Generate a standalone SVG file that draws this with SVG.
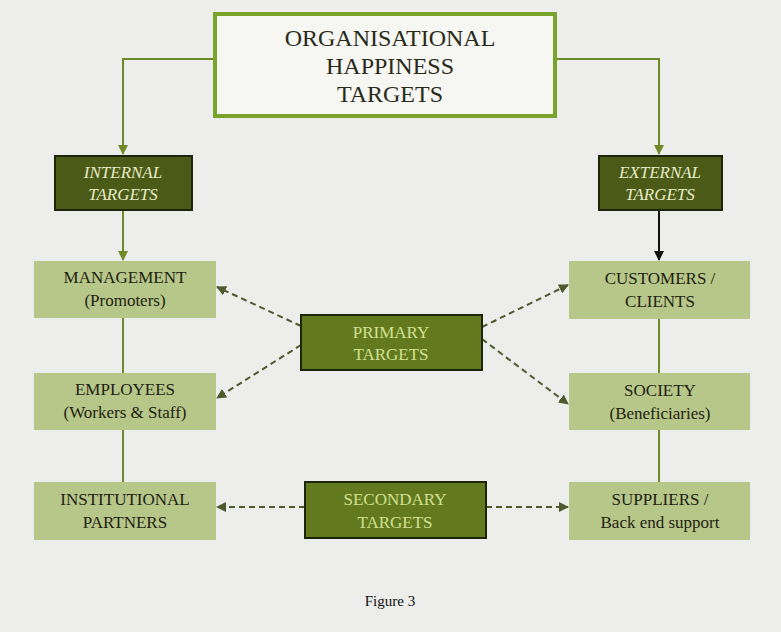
<svg xmlns="http://www.w3.org/2000/svg" width="781" height="632" viewBox="0 0 781 632">
<style>
text{font-family:"Liberation Serif","DejaVu Serif",serif;text-anchor:middle}
.lt{fill:#b7c689}
.t{fill:#1e1e12;font-size:17px}
.dk{fill:#4b5a16;stroke:#1e2408;stroke-width:2}
.pm{fill:#627a1d;stroke:#1e2408;stroke-width:2}
.w{fill:#e6ebc8;font-size:17px}
.g{fill:#d3e094;font-size:17px}
.c{fill:none;stroke:#6f8a27;stroke-width:2}
.d{fill:none;stroke:#4e5a2c;stroke-width:2;stroke-dasharray:6 4}
</style>
<defs>
<marker id="ag" viewBox="0 0 10 10" refX="9" refY="5" markerWidth="5" markerHeight="5" orient="auto-start-reverse"><path d="M0,0L10,5L0,10z" fill="#6f8a27"/></marker>
<marker id="ab" viewBox="0 0 10 10" refX="9" refY="5" markerWidth="5" markerHeight="5" orient="auto-start-reverse"><path d="M0,0L10,5L0,10z" fill="#111"/></marker>
<marker id="ad" viewBox="0 0 10 10" refX="9" refY="5" markerWidth="5" markerHeight="5" orient="auto-start-reverse"><path d="M0,0L10,5L0,10z" fill="#4e5a2c"/></marker>
</defs>
<rect width="781" height="632" fill="#ededeb"/>
<g id="connectors">
<path class="c" d="M215,59H123V154" marker-end="url(#ag)"/>
<path class="c" d="M555,59H659V154" marker-end="url(#ag)"/>
<path class="c" d="M123,210V260" marker-end="url(#ag)"/>
<path d="M659,210V260" fill="none" stroke="#111" stroke-width="2" marker-end="url(#ab)"/>
<path class="c" d="M123,318V373M123,430V482M659,319V373M659,430V482"/>
<path class="d" d="M301,326L217,287" marker-end="url(#ad)"/>
<path class="d" d="M301,345L217,398" marker-end="url(#ad)"/>
<path class="d" d="M482,327L568,285" marker-end="url(#ad)"/>
<path class="d" d="M482,339L568,404" marker-end="url(#ad)"/>
<path class="d" d="M305,507H217" marker-end="url(#ad)"/>
<path class="d" d="M486,507H568" marker-end="url(#ad)"/>
</g>
<g id="top"><rect x="215" y="14" width="340" height="102" fill="#f6f6f3" stroke="#7aa32c" stroke-width="4"/>
<text x="390" y="46" font-size="24" fill="#2a2a18">ORGANISATIONAL</text><text x="390" y="74" font-size="24" fill="#2a2a18">HAPPINESS</text><text x="390" y="102" font-size="24" fill="#2a2a18">TARGETS</text></g>
<g id="internal"><rect class="dk" x="55" y="156" width="137" height="54"/><text class="w" x="123" y="178" font-style="italic">INTERNAL</text><text class="w" x="123" y="200" font-style="italic">TARGETS</text></g>
<g id="external"><rect class="dk" x="599" y="156" width="123" height="54"/><text class="w" x="660" y="178" font-style="italic">EXTERNAL</text><text class="w" x="660" y="200" font-style="italic">TARGETS</text></g>
<g id="management"><rect class="lt" x="34" y="261" width="182" height="57"/><text class="t" x="125" y="283">MANAGEMENT</text><text class="t" x="125" y="306">(Promoters)</text></g>
<g id="employees"><rect class="lt" x="34" y="373" width="182" height="57"/><text class="t" x="125" y="395">EMPLOYEES</text><text class="t" x="125" y="418">(Workers &amp; Staff)</text></g>
<g id="institutional"><rect class="lt" x="34" y="482" width="182" height="58"/><text class="t" x="125" y="505">INSTITUTIONAL</text><text class="t" x="125" y="528">PARTNERS</text></g>
<g id="customers"><rect class="lt" x="569" y="261" width="181" height="58"/><text class="t" x="660" y="284">CUSTOMERS /</text><text class="t" x="660" y="307">CLIENTS</text></g>
<g id="society"><rect class="lt" x="569" y="373" width="181" height="57"/><text class="t" x="660" y="396">SOCIETY</text><text class="t" x="660" y="419">(Beneficiaries)</text></g>
<g id="suppliers"><rect class="lt" x="569" y="482" width="181" height="58"/><text class="t" x="660" y="505">SUPPLIERS /</text><text class="t" x="660" y="528">Back end support</text></g>
<g id="primary"><rect class="pm" x="301" y="315" width="181" height="55"/><text class="g" x="391" y="338">PRIMARY</text><text class="g" x="391" y="360">TARGETS</text></g>
<g id="secondary"><rect class="pm" x="305" y="482" width="181" height="56"/><text class="g" x="395" y="505">SECONDARY</text><text class="g" x="395" y="528">TARGETS</text></g>
<text x="390" y="606" font-size="15" fill="#111">Figure 3</text>
</svg>
